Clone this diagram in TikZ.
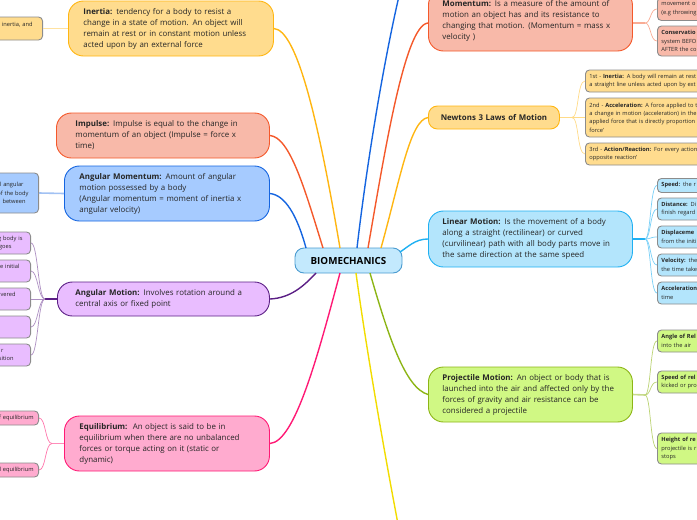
\documentclass[tikz,border=0pt]{standalone}
\usepackage{fontspec}
\setmainfont{Open Sans}
\usepackage{tikz}

\definecolor{inertiaLine}{HTML}{FFB612}
\definecolor{inertiaFill}{HTML}{FFDC8E}
\definecolor{impulseLine}{HTML}{F4592B}
\definecolor{impulseFill}{HTML}{F8B9A9}
\definecolor{spinLine}{HTML}{1565E0}
\definecolor{spinFill}{HTML}{A6CBFF}
\definecolor{rotateLine}{HTML}{5B1F85}
\definecolor{rotateFill}{HTML}{E9BDFF}
\definecolor{balanceLine}{HTML}{FF1A75}
\definecolor{balanceFill}{HTML}{FFABCF}
\definecolor{linearLine}{HTML}{1FB0F2}
\definecolor{linearFill}{HTML}{B3E5FC}
\definecolor{flightLine}{HTML}{8DB516}
\definecolor{flightFill}{HTML}{D0F884}
\definecolor{centerLine}{HTML}{4A9BD0}
\definecolor{centerFill}{HTML}{C3E9FD}
\definecolor{plainYellow}{HTML}{F2DC00}

\newcommand{\padr}[1]{\hspace*{#1}\mbox{}}

\tikzset{
	branch/.style={rounded corners=15pt, line width=0.9pt, anchor=west, align=left, inner ysep=0pt, text=black!85, font=\fontsize{7.9}{11}\selectfont},
	leafr/.style={rounded corners=4pt, line width=0.9pt, draw=black!45, anchor=west, align=left, text width=110pt, inner xsep=4pt, inner ysep=0pt, text=black!85, font=\fontsize{5.7}{8.4}\selectfont},
	leafl/.style={rounded corners=4pt, line width=0.9pt, draw=black!45, anchor=east, align=right, text width=110pt, inner xsep=0pt, inner ysep=0pt, text=black!85, font=\fontsize{5.7}{8.4}\selectfont},
	limb/.style={line width=1.4pt},
	stub/.style={line width=1.6pt},
	twig/.style={line width=0.7pt},
}

\begin{document}
\begin{tikzpicture}[x=1pt, y=-1pt]
	\useasboundingbox (0, 0) rectangle (697, 520);
	\clip (0, 0) rectangle (697, 520);

	\coordinate (topend) at (399, -4);
	\coordinate (bottomend) at (398, 524);

	\node[draw=centerLine, fill=centerFill, rounded corners=9pt, line width=0.9pt, minimum width=107pt, minimum height=25pt, font=\bfseries\fontsize{9.8}{11}\selectfont] (biomech) at (348.5, 260.5) {BIOMECHANICS};

	\node[branch, draw=inertiaLine, fill=inertiaFill, text width=175pt, inner xsep=15pt, minimum height=55pt] (inertia) at (68, 28.5) {\textbf{Inertia:} tendency for a body to resist a\\change in a state of motion. An object will\\remain at rest or in constant motion unless\\acted upon by an external force};
	\node[branch, draw=impulseLine, fill=impulseFill, text width=175pt, inner xsep=19pt, minimum height=45pt] (impulse) at (56, 135.5) {\textbf{Impulse:} Impulse is equal to the change in\\momentum of an object (Impulse = force x\\time)};
	\node[branch, draw=spinLine, fill=spinFill, text width=175pt, inner xsep=15pt, minimum height=55pt] (angmom) at (64, 193.5) {\textbf{Angular Momentum:} Amount of angular\\motion possessed by a body\\(Angular momentum = moment of inertia x\\angular velocity)};
	\node[branch, draw=rotateLine, fill=rotateFill, text width=176pt, inner xsep=18pt, minimum height=34pt] (angmotion) at (57, 299) {\textbf{Angular Motion:} Involves rotation around a\\central axis or fixed point};
	\node[branch, draw=balanceLine, fill=balanceFill, text width=175pt, inner xsep=15pt, minimum height=55pt] (equilibrium) at (64, 443.5) {\textbf{Equilibrium:}\ \ An object is said to be in\\equilibrium when there are no unbalanced\\forces or torque acting on it (static or\\dynamic)};

	\node[branch, draw=impulseLine, fill=impulseFill, text width=176pt, inner xsep=14pt, minimum height=61pt] (momentum) at (428, 20.5) {\textbf{Momentum:} Is a measure of the amount of\\motion an object has and its resistance to\\changing that motion. (Momentum = mass x\\velocity )};
	\node[branch, draw=inertiaLine, fill=inertiaFill, rounded corners=9pt, text width=117pt, inner xsep=7pt, align=center, minimum height=23pt, font=\bfseries\fontsize{7.9}{11}\selectfont] (newton) at (428, 117.5) {Newtons 3 Laws of Motion};
	\node[branch, draw=linearLine, fill=linearFill, text width=176pt, inner xsep=14pt, minimum height=56pt] (linear) at (428, 239) {\textbf{Linear Motion:} Is the movement of a body\\along a straight (rectilinear) or curved\\(curvilinear) path with all body parts move in\\the same direction at the same speed};
	\node[branch, draw=flightLine, fill=flightFill, text width=176pt, inner xsep=14pt, minimum height=55pt] (projectile) at (428, 394.5) {\textbf{Projectile Motion:} An object or body that is\\launched into the air and affected only by the\\forces of gravity and air resistance can be\\considered a projectile};

	\coordinate (forkmom) at (645, 23);
	\coordinate (forklaw) at (572, 117.5);
	\coordinate (forklin) at (645, 239);
	\coordinate (forkfly) at (645, 395);
	\coordinate (forkrot) at (45, 299);
	\coordinate (forkbal) at (52, 443.5);

	\draw[limb, inertiaLine] (inertia.east) .. controls (298, 30) and (320, 130) .. (340, 248);
	\draw[limb, impulseLine] (impulse.east) .. controls (290, 137) and (305, 190) .. (323, 248);
	\draw[limb, spinLine] (angmom.east) .. controls (285, 195) and (297, 215) .. (306, 248);
	\draw[limb, rotateLine] (angmotion.east) .. controls (290, 298) and (303, 287) .. (316, 273);
	\draw[limb, balanceLine] (equilibrium.east) .. controls (295, 442) and (318, 355) .. (340, 273);
	\draw[limb, spinLine] (357, 248) .. controls (366, 170) and (382, 70) .. (topend);
	\draw[limb, impulseLine] (momentum.west |- forkmom) .. controls (405, 25) and (385, 150) .. (368, 248);
	\draw[limb, inertiaLine] (newton.west) .. controls (410, 120) and (400, 180) .. (381, 248);
	\draw[limb, linearLine] (linear.west) .. controls (415, 239) and (408, 247) .. (400, 252);
	\draw[limb, flightLine] (projectile.west) .. controls (405, 388) and (388, 335) .. (370, 273);
	\draw[limb, plainYellow] (356, 273) .. controls (365, 340) and (382, 440) .. (bottomend);

	\node[leafl, fill=inertiaFill, minimum height=23pt] (inertialeaf) at (43, 28.5) {inertia, and\padr{10pt}\\\mbox{}};
	\node[leafl, fill=spinFill, minimum height=40pt] (spinleaf) at (39, 193) {l angular\padr{15pt}\\of the body\padr{10pt}\\between\padr{13pt}};
	\node[leafl, fill=rotateFill, minimum height=22pt] (rotatea) at (31, 243) {g body is\padr{8pt}\\goes\padr{19pt}};
	\node[leafl, fill=rotateFill, minimum height=22pt] (rotateb) at (31, 271) {e initial\padr{11pt}\\\mbox{}};
	\node[leafl, fill=rotateFill, minimum height=22pt] (rotatec) at (31, 299) {vered\padr{15pt}\\\mbox{}};
	\node[leafl, fill=rotateFill, minimum height=22pt] (rotated) at (31, 327) {};
	\node[leafl, fill=rotateFill, minimum height=22pt] (rotatee) at (31, 355) {r\padr{27pt}\\sition\padr{17pt}};
	\node[leafl, fill=balanceFill, minimum height=14pt] (balancea) at (39, 418) {f equilibrium\padr{5pt}};
	\node[leafl, fill=balanceFill, minimum height=14pt] (balanceb) at (39, 470) {l equilibrium\padr{5pt}};

	\node[leafr, fill=impulseFill, minimum height=23pt] (momentuma) at (657, 9) {movement o\\(e.g throwing};
	\node[leafr, fill=impulseFill, minimum height=30pt] (momentumb) at (657, 41) {\textbf{Conservatio}\\system BEFO\\AFTER the co};

	\node[leafr, fill=inertiaFill, minimum height=22pt] (lawa) at (585, 81) {1st - \textbf{Inertia:} A body will remain at rest\\a straight line unless acted upon by ext};
	\node[leafr, fill=inertiaFill, minimum height=39pt] (lawb) at (585, 117.5) {2nd - \textbf{Acceleration:} A force applied to t\\a change in motion (acceleration) in the\\applied force that is directly proportion\\force'};
	\node[leafr, fill=inertiaFill, minimum height=22pt] (lawc) at (585, 154) {3rd - \textbf{Action/Reaction:} For every action\\opposite reaction'};

	\node[leafr, fill=linearFill, minimum height=14pt] (lineara) at (657, 185.5) {\textbf{Speed:} the r};
	\node[leafr, fill=linearFill, minimum height=22pt] (linearb) at (657, 209) {\textbf{Distance:} Di\\finish regard};
	\node[leafr, fill=linearFill, minimum height=22pt] (linearc) at (657, 237) {\textbf{Displaceme}\\from the initi};
	\node[leafr, fill=linearFill, minimum height=22pt] (lineard) at (657, 265) {\textbf{Velocity:} the\\the time take};
	\node[leafr, fill=linearFill, minimum height=22pt] (lineare) at (657, 293) {\textbf{Acceleration}\\time};

	\node[leafr, fill=flightFill, minimum height=22pt] (flighta) at (657, 341) {\textbf{Angle of Rel}\\into the air};
	\node[leafr, fill=flightFill, minimum height=22pt] (flightb) at (657, 382) {\textbf{Speed of rel}\\kicked or pro};
	\node[leafr, fill=flightFill, minimum height=31pt] (flightc) at (657, 448.5) {\textbf{Height of re}\\projectile is r\\stops};

	\draw[stub, inertiaLine!40] (inertia.west) -- (inertialeaf.east);
	\draw[stub, spinLine!40] (angmom.west) -- (spinleaf.east);
	\draw[stub, impulseLine!50] (momentum.east |- forkmom) -- (forkmom);
	\draw[stub, inertiaLine!50] (newton.east) -- (forklaw);
	\draw[stub, linearLine] (linear.east) -- (forklin);
	\draw[stub, flightLine!50] (projectile.east) -- (forkfly);
	\draw[stub, rotateLine] (angmotion.west) -- (forkrot);
	\draw[stub, balanceLine!50] (equilibrium.west) -- (forkbal);

	\foreach \leaf in {momentuma, momentumb}
		\draw[twig, impulseLine!50] (forkmom) .. controls (651, 23) and (650, 23 |- \leaf.west) .. (\leaf.west);
	\foreach \leaf in {lawa, lawb, lawc}
		\draw[twig, inertiaLine!50] (forklaw) .. controls (579, 117.5) and (577, 117.5 |- \leaf.west) .. (\leaf.west);
	\foreach \leaf in {lineara, linearb, linearc, lineard, lineare}
		\draw[twig, linearLine!60] (forklin) .. controls (651, 239) and (650, 239 |- \leaf.west) .. (\leaf.west);
	\foreach \leaf in {flighta, flightb, flightc}
		\draw[twig, flightLine!60] (forkfly) .. controls (651, 395) and (650, 395 |- \leaf.west) .. (\leaf.west);
	\foreach \leaf in {rotatea, rotateb, rotatec, rotated, rotatee}
		\draw[twig, rotateLine!50] (forkrot) .. controls (38, 299) and (38, 299 |- \leaf.east) .. (\leaf.east);
	\foreach \leaf in {balancea, balanceb}
		\draw[twig, balanceLine!60] (forkbal) .. controls (45, 443.5) and (46, 443.5 |- \leaf.east) .. (\leaf.east);
\end{tikzpicture}
\end{document}
